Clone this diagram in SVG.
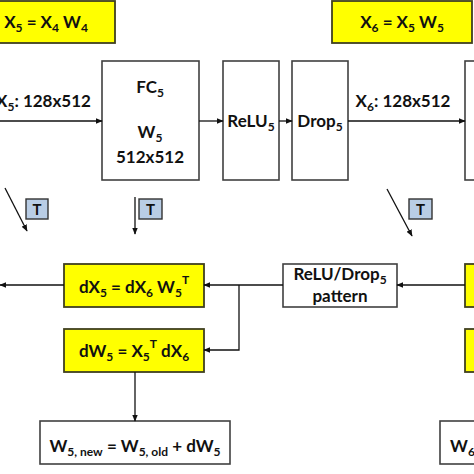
<svg xmlns="http://www.w3.org/2000/svg" width="474" height="474" viewBox="0 0 474 474">
<style>
  text { font-family: Lato, "Liberation Sans", sans-serif; font-weight: bold; font-size: 17px; fill: #111; }
  .sub { font-size: 12px; }
  .box { fill: #fff; stroke: #404040; stroke-width: 1.6; }
  .ybox { fill: #ffff00; stroke: #404020; stroke-width: 1.8; }
  .tbox { fill: #b9cde5; stroke: #333; stroke-width: 1.4; }
  .tt { font-size: 15px; }
  .ln { stroke: #111; stroke-width: 1.3; fill: none; }
</style>
<defs>
  <marker id="ah" viewBox="0 0 10 10" refX="9" refY="5" markerWidth="7" markerHeight="7" markerUnits="userSpaceOnUse" orient="auto">
    <path d="M0,1 L10,5 L0,9 Z" fill="#111"/>
  </marker>
</defs>
<rect width="474" height="474" fill="#fff"/>

<g id="eq-x5">
  <rect class="ybox" x="-5" y="1" width="120" height="42"/>
  <text x="46" y="28" text-anchor="middle">X<tspan class="sub" dy="4">5</tspan><tspan dy="-4"> = X</tspan><tspan class="sub" dy="4">4</tspan><tspan dy="-4"> W</tspan><tspan class="sub" dy="4">4</tspan></text>
</g>
<g id="eq-x6">
  <rect class="ybox" x="332" y="1" width="140" height="42"/>
  <text x="402" y="28" text-anchor="middle">X<tspan class="sub" dy="4">6</tspan><tspan dy="-4"> = X</tspan><tspan class="sub" dy="4">5</tspan><tspan dy="-4"> W</tspan><tspan class="sub" dy="4">5</tspan></text>
</g>

<g id="fc5">
  <rect class="box" x="102" y="61" width="97" height="119"/>
  <text x="150" y="93" text-anchor="middle">FC<tspan class="sub" dy="4">5</tspan></text>
  <text x="150" y="138" text-anchor="middle">W<tspan class="sub" dy="4">5</tspan></text>
  <text x="150" y="163" text-anchor="middle">512x512</text>
</g>
<g id="relu5">
  <rect class="box" x="223" y="61" width="56" height="119"/>
  <text x="251" y="127" text-anchor="middle">ReLU<tspan class="sub" dy="4">5</tspan></text>
</g>
<g id="drop5">
  <rect class="box" x="292" y="61" width="56" height="119"/>
  <text x="320" y="127" text-anchor="middle">Drop<tspan class="sub" dy="4">5</tspan></text>
</g>
<g id="next-layer">
  <rect class="box" x="465" y="61" width="20" height="119"/>
</g>

<g id="t1">
  <rect class="tbox" x="26" y="199" width="22" height="20"/>
  <text class="tt" x="37" y="215" text-anchor="middle">T</text>
</g>
<g id="t2">
  <rect class="tbox" x="139" y="199" width="23" height="20"/>
  <text class="tt" x="150.5" y="215" text-anchor="middle">T</text>
</g>
<g id="t3">
  <rect class="tbox" x="409" y="199" width="23" height="20"/>
  <text class="tt" x="420.5" y="215" text-anchor="middle">T</text>
</g>

<g id="dx5">
  <rect class="ybox" x="64" y="264" width="140" height="43"/>
  <text x="134" y="293" text-anchor="middle">dX<tspan class="sub" dy="4">5</tspan><tspan dy="-4"> = dX</tspan><tspan class="sub" dy="4">6</tspan><tspan dy="-4"> W</tspan><tspan class="sub" dy="4">5</tspan><tspan class="sub" dy="-13">T</tspan></text>
</g>
<g id="relu-drop-pattern">
  <rect class="box" x="283" y="264" width="114" height="43"/>
  <text x="340" y="280" text-anchor="middle">ReLU/Drop<tspan class="sub" dy="4">5</tspan></text>
  <text x="340" y="302" text-anchor="middle">pattern</text>
</g>
<g id="dw5">
  <rect class="ybox" x="64" y="329" width="140" height="43"/>
  <text x="134" y="357" text-anchor="middle">dW<tspan class="sub" dy="4">5</tspan><tspan dy="-4"> = X</tspan><tspan class="sub" dy="4">5</tspan><tspan class="sub" dy="-13">T</tspan><tspan dy="9"> dX</tspan><tspan class="sub" dy="4">6</tspan></text>
</g>
<g id="dx6">
  <rect class="ybox" x="465" y="264" width="20" height="43"/>
</g>
<g id="dw6">
  <rect class="ybox" x="465" y="329" width="20" height="43"/>
</g>
<g id="w5-update">
  <rect class="box" x="40" y="421" width="190" height="43"/>
  <text x="135" y="452" text-anchor="middle">W<tspan class="sub" dy="4">5, new</tspan><tspan dy="-4"> = W</tspan><tspan class="sub" dy="4">5, old</tspan><tspan dy="-4"> + dW</tspan><tspan class="sub" dy="4">5</tspan></text>
</g>
<g id="w6-update">
  <rect class="box" x="440" y="421" width="50" height="43"/>
  <text x="450" y="452">W<tspan class="sub" dy="4">6</tspan></text>
</g>

<g id="connectors">
  <line class="ln" x1="-2" y1="121" x2="102" y2="121" marker-end="url(#ah)"/>
  <text x="-4" y="107">X<tspan class="sub" dy="4">5</tspan><tspan dy="-4">: 128x512</tspan></text>
  <line class="ln" x1="199" y1="121" x2="223" y2="121" marker-end="url(#ah)"/>
  <line class="ln" x1="279" y1="121" x2="292" y2="121" marker-end="url(#ah)"/>
  <line class="ln" x1="348" y1="121" x2="465" y2="121" marker-end="url(#ah)"/>
  <text x="403" y="107" text-anchor="middle">X<tspan class="sub" dy="4">6</tspan><tspan dy="-4">: 128x512</tspan></text>

  <line class="ln" x1="5" y1="188" x2="27" y2="231" marker-end="url(#ah)"/>
  <line class="ln" x1="135" y1="197" x2="135" y2="234" marker-end="url(#ah)"/>
  <line class="ln" x1="387" y1="189" x2="412" y2="236" marker-end="url(#ah)"/>

  <line class="ln" x1="64" y1="285" x2="0" y2="285" marker-end="url(#ah)"/>
  <line class="ln" x1="465" y1="285" x2="397" y2="285" marker-end="url(#ah)"/>
  <line class="ln" x1="283" y1="285" x2="204" y2="285" marker-end="url(#ah)"/>
  <polyline class="ln" points="239,285 239,350 204,350" marker-end="url(#ah)"/>
  <line class="ln" x1="135" y1="372" x2="135" y2="421" marker-end="url(#ah)"/>
</g>
</svg>
